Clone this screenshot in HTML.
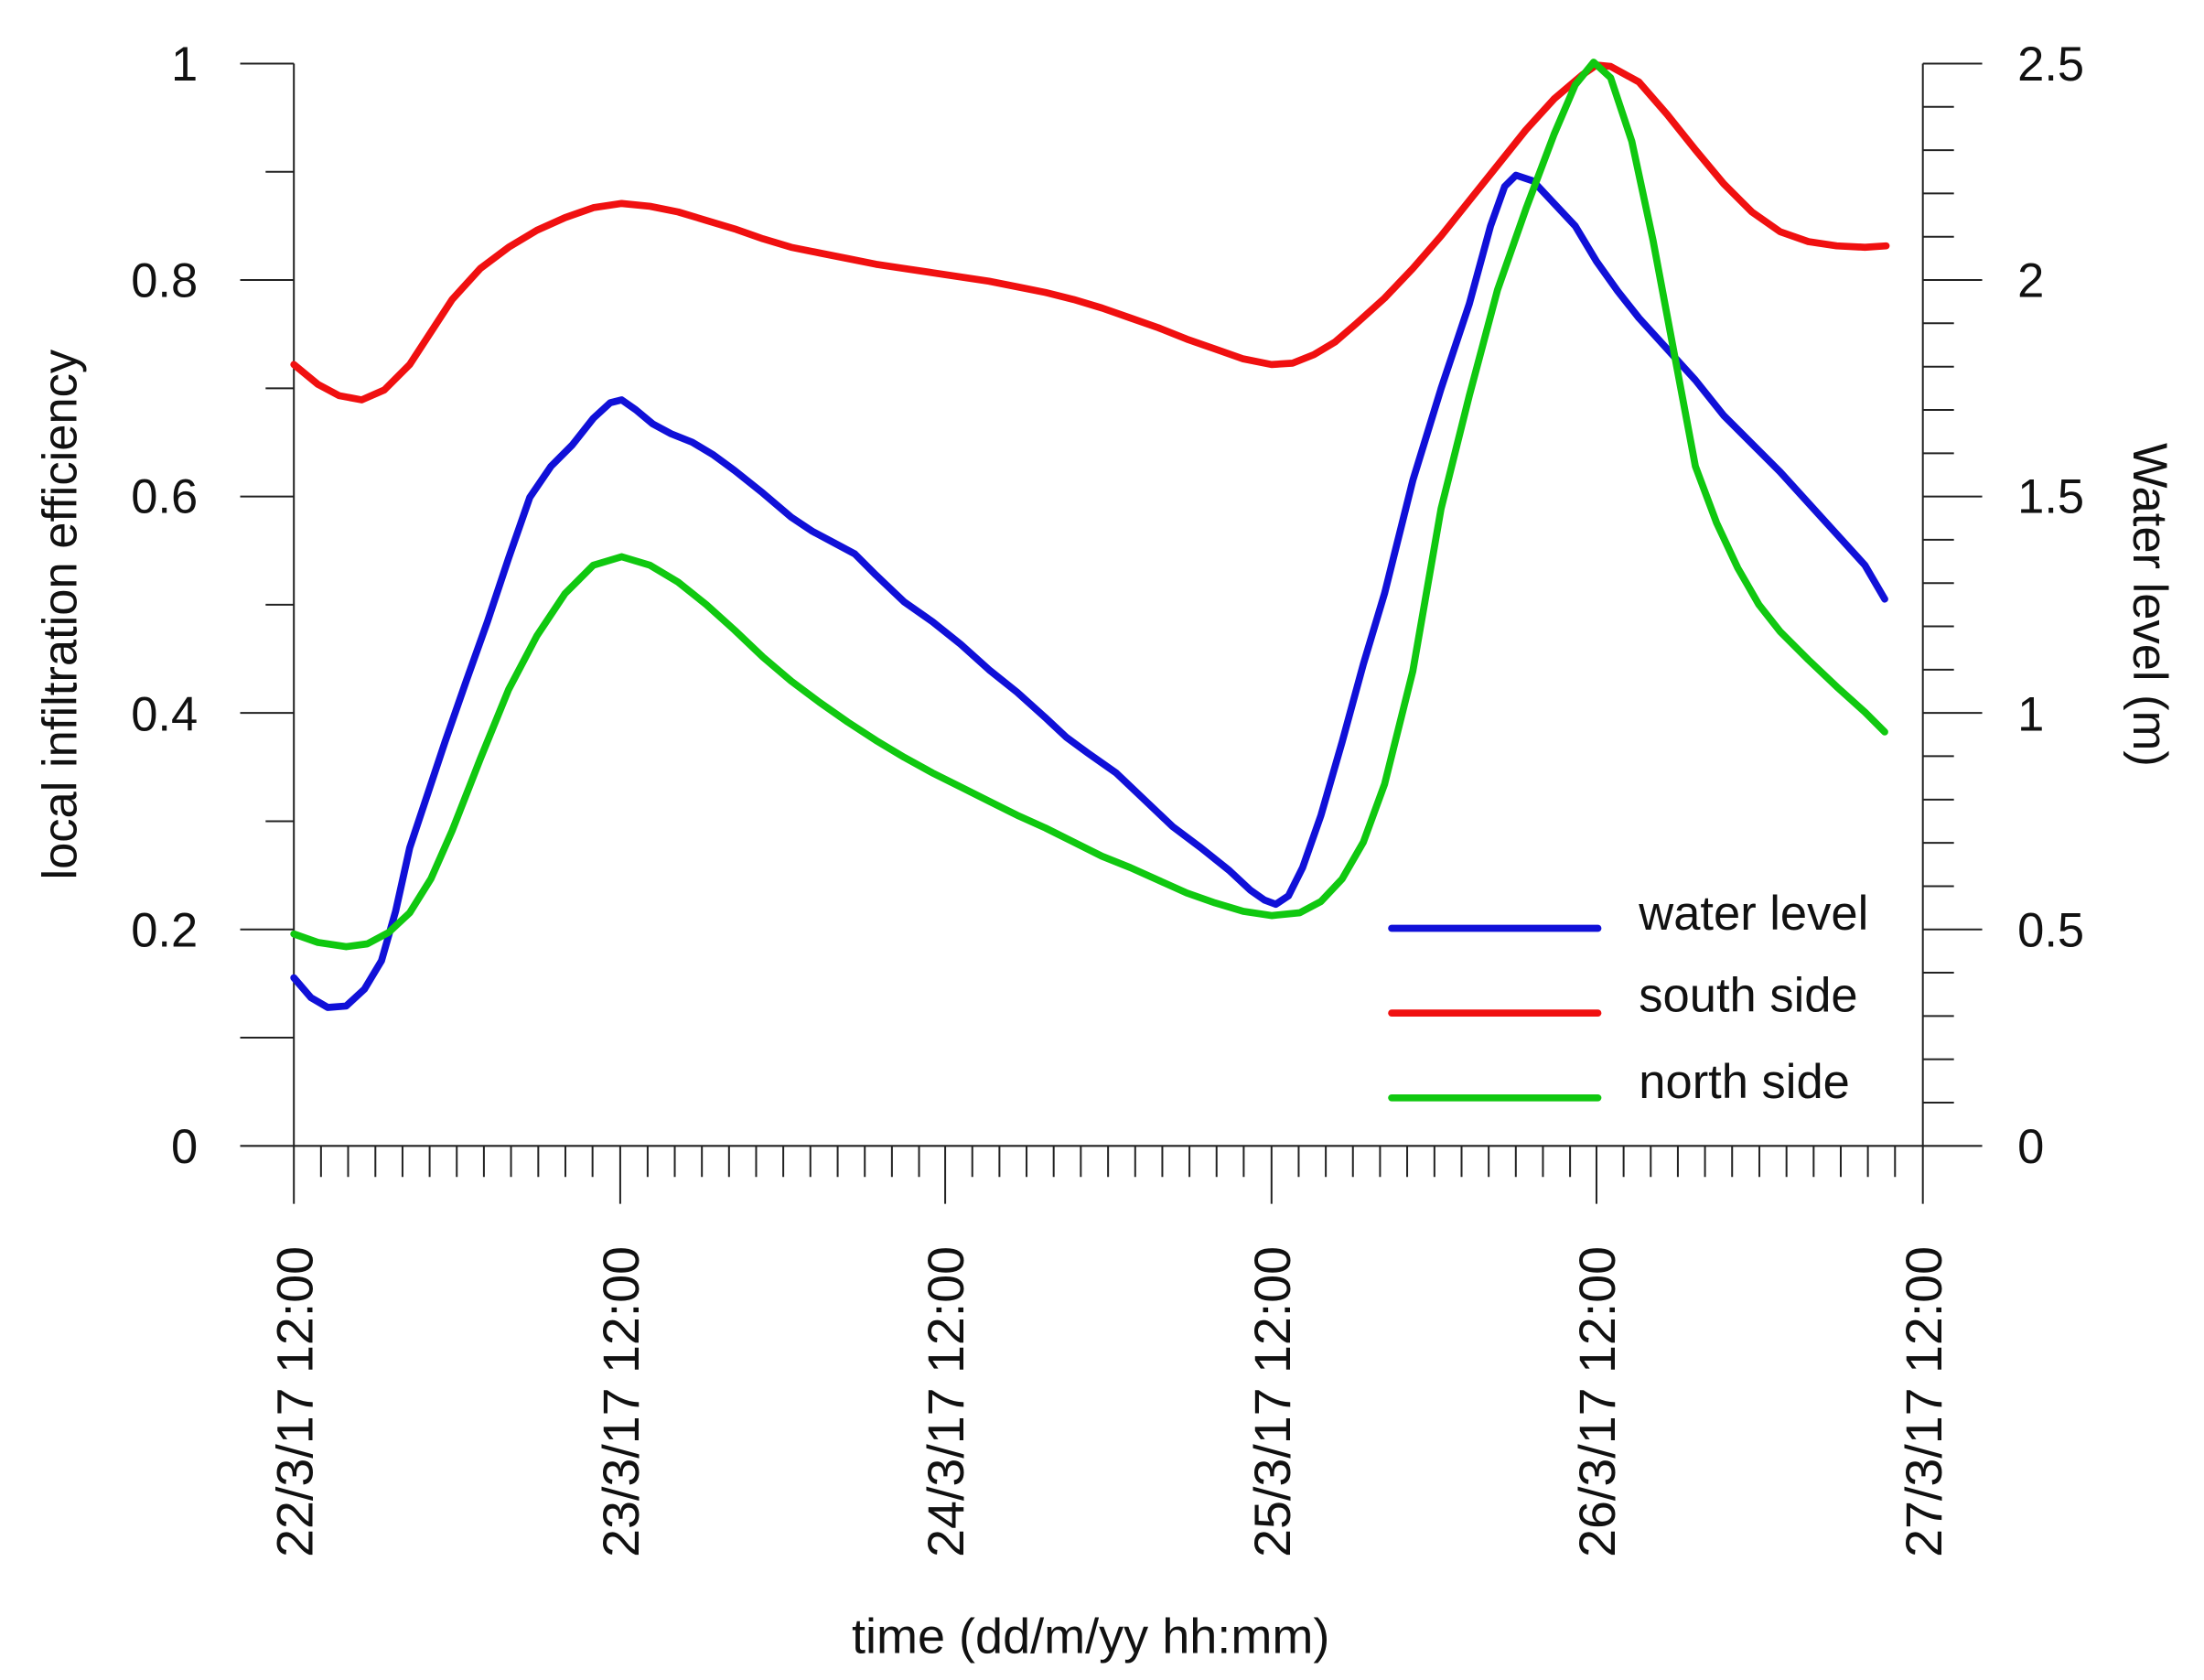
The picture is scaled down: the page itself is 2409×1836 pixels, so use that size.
<!DOCTYPE html>
<html><head><style>html,body{margin:0;padding:0;background:#fff}svg{display:block}</style></head>
<body>
<svg width="2409" height="1836" viewBox="0 0 1560 1189" preserveAspectRatio="none" xmlns="http://www.w3.org/2000/svg" font-family="Liberation Sans, Arial, sans-serif">
<g stroke="#222" stroke-width="1.3" fill="none">
<line x1="208" y1="45" x2="208" y2="852"/>
<line x1="1361" y1="45" x2="1361" y2="852"/>
<line x1="170" y1="811" x2="1403" y2="811"/>
<line x1="439" y1="811" x2="439" y2="852"/><line x1="669" y1="811" x2="669" y2="852"/><line x1="900" y1="811" x2="900" y2="852"/><line x1="1130" y1="811" x2="1130" y2="852"/>
<path d="M227.2 811v22M246.4 811v22M265.7 811v22M284.9 811v22M304.1 811v22M323.3 811v22M342.5 811v22M361.7 811v22M381 811v22M400.2 811v22M419.4 811v22
M458.4 811v22M477.6 811v22M496.8 811v22M516 811v22M535.2 811v22M554.4 811v22M573.6 811v22M592.9 811v22M612.1 811v22M631.3 811v22M650.5 811v22
M688.2 811v22M707.4 811v22M726.6 811v22M745.8 811v22M765 811v22M784.3 811v22M803.5 811v22M822.7 811v22M841.9 811v22M861.1 811v22M880.3 811v22
M919.2 811v22M938.4 811v22M957.6 811v22M976.8 811v22M996 811v22M1015.3 811v22M1034.5 811v22M1053.7 811v22M1072.9 811v22M1092.1 811v22M1111.3 811v22
M1149.2 811v22M1168.4 811v22M1187.6 811v22M1206.8 811v22M1226 811v22M1245.3 811v22M1264.5 811v22M1283.7 811v22M1302.9 811v22M1322.1 811v22M1341.3 811v22"/>
<path d="M170 734.4h38M188 734.4h20M170 657.8h38M188 581.2h20M170 504.6h38M188 428h20M170 351.4h38M188 274.8h20M170 198.2h38M188 121.6h20M170 45h38"/>
<path d="M1361 780.4h22M1361 749.7h22M1361 719.1h22M1361 688.4h22M1361 657.8h42M1361 627.2h22M1361 596.5h22M1361 565.9h22M1361 535.2h22M1361 504.6h42M1361 474h22M1361 443.3h22M1361 412.7h22M1361 382h22M1361 351.4h42M1361 320.8h22M1361 290.1h22M1361 259.5h22M1361 228.8h22M1361 198.2h42M1361 167.6h22M1361 136.9h22M1361 106.3h22M1361 75.6h22M1361 45h42"/>
</g>
<g font-size="34" fill="#111">
<g text-anchor="end">
<text x="140" y="823">0</text><text x="140" y="670">0.2</text><text x="140" y="517">0.4</text><text x="140" y="363">0.6</text><text x="140" y="210">0.8</text><text x="140" y="57">1</text>
</g>
<g text-anchor="start">
<text x="1428" y="823">0</text><text x="1428" y="670">0.5</text><text x="1428" y="517">1</text><text x="1428" y="363">1.5</text><text x="1428" y="210">2</text><text x="1428" y="57">2.5</text>
</g>
<g text-anchor="end" font-size="36">
<text transform="translate(221,882) rotate(-90)">22/3/17 12:00</text>
<text transform="translate(452,882) rotate(-90)">23/3/17 12:00</text>
<text transform="translate(682,882) rotate(-90)">24/3/17 12:00</text>
<text transform="translate(913,882) rotate(-90)">25/3/17 12:00</text>
<text transform="translate(1143,882) rotate(-90)">26/3/17 12:00</text>
<text transform="translate(1374,882) rotate(-90)">27/3/17 12:00</text>
</g>
<text x="772" y="1170" text-anchor="middle" font-size="35">time (dd/m/yy hh:mm)</text>
<text transform="translate(54,435) rotate(-90)" text-anchor="middle">local infiltration efficiency</text>
<text transform="translate(1510,428) rotate(90)" text-anchor="middle">Water level (m)</text>
<text x="1160" y="658">water level</text>
<text x="1160" y="716">south side</text>
<text x="1160" y="777">north side</text>
</g>
<g fill="none" stroke-width="5" stroke-linejoin="round" stroke-linecap="round">
<line x1="985" y1="657" x2="1131" y2="657" stroke="#1010d8"/>
<line x1="985" y1="717" x2="1131" y2="717" stroke="#f01010"/>
<line x1="985" y1="777" x2="1131" y2="777" stroke="#10c810"/>
<polyline stroke="#f01010" points="208,258 225,272 240,280 256,283 272,276 290,258 305,235 320,212 340,190 360,175 380,163 400,154 420,147 440,144 460,146 480,150 500,156 520,162 540,169 560,175 580,179 600,183 620,187 640,190 660,193 680,196 700,199 720,203 740,207 760,212 780,218 800,225 820,232 840,240 860,247 880,254 900,258 915,257 930,251 945,242 960,229 980,211 1000,190 1020,167 1040,142 1060,117 1080,92 1100,70 1120,53 1130,46 1140,47 1160,58 1180,81 1200,106 1220,130 1240,150 1260,164 1280,171 1300,174 1320,175 1335,174"/>
<polyline stroke="#1010d8" points="208,692 220,706 232,713 245,712 258,700 270,680 280,645 290,600 300,570 315,525 330,482 345,440 360,395 375,352 390,330 405,315 420,296 432,285 440,283 450,290 462,300 475,307 490,313 505,322 520,333 540,349 560,366 575,376 590,384 605,392 620,407 640,426 660,440 680,456 700,474 720,490 740,508 755,522 770,533 790,547 810,566 830,585 850,600 870,616 885,630 895,637 903,640 912,634 922,614 935,577 950,525 965,470 980,420 1000,340 1020,275 1040,215 1055,160 1065,132 1073,124 1085,128 1100,144 1115,160 1130,185 1145,206 1160,225 1180,247 1200,269 1220,294 1240,314 1260,334 1280,356 1300,378 1320,400 1334,424"/>
<polyline stroke="#10c810" points="208,661 225,667 245,670 260,668 275,660 290,646 305,622 320,588 340,537 360,488 380,450 400,420 420,400 440,394 460,400 480,412 500,428 520,446 540,465 560,482 580,497 600,511 620,524 640,536 660,547 680,557 700,567 720,577 740,586 760,596 780,606 800,614 820,623 840,632 860,639 880,645 900,648 920,646 935,638 950,622 965,596 980,555 1000,475 1020,360 1040,280 1060,205 1080,148 1100,95 1115,60 1128,44 1140,55 1155,100 1170,170 1185,250 1200,330 1215,370 1230,402 1245,428 1260,447 1280,467 1300,486 1320,504 1334,518"/>
</g>
</svg>
</body></html>
